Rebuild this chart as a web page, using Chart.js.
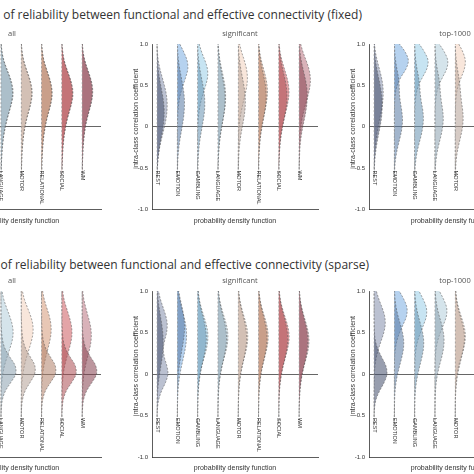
<!DOCTYPE html>
<html><head><meta charset="utf-8">
<script src="https://cdn.jsdelivr.net/npm/chart.js@4.4.0/dist/chart.umd.min.js"></script>
<style>
html,body{margin:0;padding:0;background:#fff;width:474px;height:474px;overflow:hidden;position:relative}
canvas{position:absolute}
.ttl{position:absolute;white-space:nowrap;font-family:'Open Sans',sans-serif;font-size:12px;color:#333;text-align:right}
</style></head><body>
<div class="ttl" style="right:112px;top:6px">Distribution of reliability between functional and effective connectivity (fixed)</div>
<div class="ttl" style="right:105px;top:256px">Distribution of reliability between functional and effective connectivity (sparse)</div>
<script>
const categories = ['REST','EMOTION','GAMBLING','LANGUAGE','MOTOR','RELATIONAL','SOCIAL','WM'];
const panelTitles = ['all','significant','top-1000'];
const yTicks = [-1,-0.5,0,0.5,1];
const yGrid = [-0.6,-0.5,-0.4,-0.3,-0.2,-0.1,0,0.1,0.2,0.3,0.4,0.5,0.6,0.7,0.8,0.9,1.0];
const colA = ['#8d98b3','#85b4e4','#a2d2ea','#b9d2de','#f3d5c3','#d9a184','#d0686c','#bf7e8a'];
const colB = ['#434f6c','#5679a2','#6692b0','#8aa1ae','#b5a196','#b08068','#ab4d52','#85404f'];

// ---- fixed: all ----
const fixedAllA = [null,null,null,
 [0,0.3,0.6,1.1,1.8,2.9,4.4,6.3,8.6,10.8,12,11.2,8.9,5.8,2.9,1.1,0.2],
 [0,0.3,0.5,0.9,1.5,2.4,3.8,5.6,7.8,9.8,10.8,10,7.8,5,2.5,0.9,0.2],
 [0,0.3,0.5,0.9,1.5,2.4,3.7,5.4,7.6,9.6,10.5,9.7,7.6,4.9,2.4,0.9,0.2],
 [0,0.3,0.5,0.9,1.5,2.4,3.8,5.6,7.9,10,11,10.1,7.8,4.9,2.4,0.9,0.2],
 [0,0.2,0.4,0.8,1.3,2.1,3.3,5,7.2,9.3,10.4,10,8,5.3,2.7,1,0.2]];
const fixedAllB = [null,null,null,
 [0,0.3,0.6,1,1.7,2.7,4.2,6.1,8.4,10.4,11.4,10.6,8.4,5.4,2.7,1,0.2],
 [0,0.2,0.5,0.8,1.4,2.3,3.6,5.3,7.5,9.4,10.3,9.5,7.4,4.7,2.3,0.8,0.1],
 [0,0.2,0.5,0.8,1.4,2.2,3.5,5.2,7.3,9.2,10.1,9.3,7.2,4.6,2.2,0.8,0.1],
 [0,0.2,0.5,0.8,1.4,2.3,3.6,5.3,7.5,9.5,10.4,9.6,7.4,4.6,2.2,0.8,0.1],
 [0,0.2,0.4,0.7,1.2,2,3.1,4.8,6.9,8.9,9.9,9.5,7.6,5,2.5,0.9,0.2]];
// ---- fixed: significant ----
const fixedSigA = [
 [0,0.2,0.8,1.8,3.4,5.3,7.3,8.9,9.8,9.9,9,7.2,5,2.8,1.2,0.3,0],
 [0,0,0,0,0,0,0.1,0.3,0.7,1.6,3.2,5.6,8.3,10.3,9.6,6.4,2.4],
 [0,0,0,0,0,0.1,0.3,0.7,1.6,3.1,5.3,7.9,9.8,9.6,7.2,4,1.5],
 [0,0.1,0.3,0.7,1.3,2.3,3.6,5.1,6.5,7.4,7.5,6.8,5.3,3.6,2,0.9,0.2],
 [0,0,0,0.1,0.2,0.4,0.9,1.8,3.2,5,7,8.5,9,8.1,6,3.4,1.3],
 [0,0.1,0.2,0.5,1,1.8,3,4.6,6.4,7.9,8.7,8.4,7,4.9,2.8,1.2,0.3],
 [0,0.1,0.3,0.6,1.2,2.1,3.5,5.3,7.3,9,10,9.6,7.9,5.5,3.1,1.3,0.3],
 [0,0,0.1,0.2,0.4,0.8,1.6,2.9,4.8,7,9.2,10.8,11,9.6,6.9,3.9,1.5]];
const fixedSigB = [
 [0,0.3,0.9,1.8,3,4.5,5.9,6.8,7,6.4,5.1,3.6,2.2,1.1,0.4,0.1,0],
 [0,0.2,0.5,1.1,2,3.3,4.7,6,6.8,7,6.5,5.3,3.8,2.3,1.1,0.4,0.1],
 [0,0.2,0.5,1,1.8,3,4.4,5.8,6.8,7,6.5,5.2,3.6,2.1,1,0.3,0.1],
 [0,0.1,0.4,0.8,1.5,2.5,3.8,5.2,6.4,7,6.8,5.9,4.4,2.8,1.5,0.6,0.1],
 [0,0.1,0.4,0.8,1.5,2.6,4,5.5,6.6,7,6.6,5.5,4,2.5,1.3,0.5,0.1],
 [0,0.1,0.3,0.7,1.3,2.2,3.5,5,6.4,7.3,7.5,6.8,5.3,3.5,1.9,0.8,0.2],
 [0,0.1,0.3,0.7,1.3,2.3,3.7,5.3,6.8,7.8,8,7.2,5.6,3.7,2,0.8,0.2],
 [0,0.1,0.3,0.6,1.2,2.2,3.6,5.3,6.8,7.8,8,7.3,5.7,3.8,2.1,0.9,0.2]];
// ---- fixed: top-1000 ----
const fixedTopA = [
 [0,0.1,0.3,0.8,1.5,2.6,4,5.6,7.2,8.5,9,8.6,7.2,5.2,3.1,1.4,0.4],
 [0,0,0,0,0,0,0,0,0.1,0.3,1,2.8,6.5,11.5,13.8,10.8,5],
 [0,0,0,0,0,0,0,0,0.2,0.6,1.6,3.8,7.8,12,13.2,9.8,4.5],
 [0,0,0,0,0,0,0,0.1,0.2,0.6,1.6,3.8,7.6,11.6,12.6,9.4,4.2],
 [0,0,0,0,0,0,0,0.1,0.2,0.5,1.3,3,6,9,9.9,7.6,3.5],
 [0,0,0,0,0,0,0,0.1,0.3,0.8,1.9,3.9,6.8,9.2,9.5,7,3.2],
 null,null];
const fixedTopB = [
 [0,0.3,0.8,1.6,2.8,4.3,5.9,7.2,7.9,8,7.3,6,4.3,2.7,1.4,0.6,0.2],
 [0.1,0.4,1.1,2.4,4.2,6.2,7.6,8,7.2,5.9,5,4.8,4,2.5,1.2,0.4,0.1],
 [0.1,0.4,1.2,2.5,4.4,6.5,8,8.6,8,6.6,5.5,4.9,3.8,2.3,1.1,0.4,0.1],
 [0.1,0.4,1.1,2.3,4.1,6.1,7.6,8.2,7.6,6.4,5.4,4.8,3.7,2.2,1,0.3,0.1],
 [0.1,0.4,1,2.1,3.8,5.7,7.2,7.8,7.3,6.2,5.3,4.6,3.5,2.1,1,0.3,0.1],
 [0.1,0.4,1,2,3.6,5.5,7,7.7,7.3,6.3,5.4,4.6,3.4,2,0.9,0.3,0.1],
 null,null];
// ---- sparse: all ----
const sparseAllA = [null,null,null,
 [0,0,0,0.1,0.3,0.8,1.8,3.5,5.9,8.6,11,12,11,8.5,5.5,2.8,1],
 [0,0,0,0.1,0.3,0.7,1.6,3.1,5.2,7.7,10.1,11.6,11.3,9.2,6.1,3.1,1.1],
 [0,0,0,0.1,0.2,0.5,1.2,2.4,4.1,6.2,8.2,9.4,9.2,7.6,5.1,2.7,1],
 [0,0,0,0.1,0.3,0.7,1.5,2.9,4.9,7.2,9.2,10,9.2,7.1,4.5,2.2,0.8],
 [0,0,0.1,0.2,0.4,0.9,1.8,3.3,5.3,7.4,8.8,9,7.9,5.8,3.6,1.7,0.6]];
const sparseAllB = [null,null,null,
 [0,0.1,0.5,1.6,4.6,9.8,14.5,14,9,4.2,1.7,0.7,0.2,0.1,0,0,0],
 [0,0.1,0.4,1.4,4,8.8,13.2,13.4,9.2,4.6,1.9,0.8,0.3,0.1,0,0,0],
 [0,0.1,0.4,1.3,4,9,13.6,13.5,9,4.4,1.8,0.7,0.2,0.1,0,0,0],
 [0,0.1,0.5,1.6,4.6,9.8,14,13.2,8.4,3.9,1.5,0.6,0.2,0.1,0,0,0],
 [0,0.1,0.5,1.6,4.6,9.8,14.2,13.4,8.6,4,1.6,0.6,0.2,0.1,0,0,0]];
// ---- sparse: significant ----
const sparseSigA = [
 [0,0.1,0.5,1.8,4.6,8.4,10.7,9.6,7.2,6.2,7.4,9.4,10,8.6,6,3.3,1.3],
 [0,0,0.1,0.3,0.7,1.4,2.6,4.2,6,7.7,8.8,9,8.1,6.3,4.1,2.2,0.8],
 [0,0,0.1,0.2,0.5,1.1,2.3,4.1,6.4,8.6,9.9,9.9,8.4,6,3.5,1.6,0.5],
 [0,0,0.1,0.2,0.5,1.1,2.3,4,6.2,8.3,9.6,9.6,8.2,5.8,3.4,1.5,0.5],
 [0,0,0.1,0.2,0.5,1.1,2.2,3.9,6,8,9.2,9.2,7.8,5.5,3.2,1.4,0.4],
 [0,0,0.1,0.2,0.5,1.1,2.2,3.9,6,8,9.3,9.3,7.9,5.6,3.2,1.4,0.4],
 [0,0,0.1,0.2,0.5,1.2,2.4,4.2,6.5,8.6,10,9.9,8.3,5.8,3.3,1.4,0.4],
 [0,0,0.1,0.3,0.7,1.5,2.9,4.9,7.2,9,9.7,9,7.1,4.7,2.5,1,0.3]];
const sparseSigB = [
 [0,0,0.1,0.3,0.7,1.4,2.5,3.8,5,5.8,6,5.6,4.6,3.3,2,1,0.3],
 [0,0,0,0.1,0.2,0.5,1,1.9,3.2,4.6,6,6.9,7,6.2,4.7,2.9,1.3],
 [0,0,0.1,0.3,0.7,1.4,2.6,4.2,6,7.6,8.5,8.3,7,5,3,1.4,0.5],
 [0,0,0.1,0.3,0.7,1.4,2.6,4.1,5.9,7.5,8.4,8.2,6.9,4.9,2.9,1.4,0.4],
 [0,0,0.1,0.3,0.7,1.4,2.5,4,5.8,7.3,8.2,8,6.7,4.8,2.8,1.3,0.4],
 [0,0,0.1,0.3,0.7,1.4,2.5,4,5.8,7.3,8.2,8,6.7,4.8,2.8,1.3,0.4],
 [0,0,0.1,0.3,0.7,1.5,2.7,4.3,6.2,7.8,8.7,8.4,7,4.9,2.8,1.3,0.4],
 [0,0,0.1,0.4,0.9,1.8,3.1,4.8,6.6,8,8.5,7.9,6.3,4.3,2.4,1,0.3]];
// ---- sparse: top-1000 ----
const sparseTopA = [
 [0,0,0,0,0,0.1,0.3,0.9,2.2,4.3,7,9.6,11,10.4,7.9,4.8,2.2],
 [0,0,0,0,0,0,0,0.1,0.3,1,2.5,5.2,8.8,12,12.4,9.3,4.8],
 [0,0,0,0,0,0,0.1,0.2,0.5,1.3,3,5.8,9,11.6,11.5,8.4,4.2],
 [0,0,0,0,0,0,0,0.1,0.4,1.1,2.7,5.3,8.6,11.3,11.5,8.5,4.3],
 [0,0,0,0.1,0.3,0.8,1.7,3.3,5.6,8,9.7,9.8,8.2,5.7,3.2,1.4,0.5],
 [0,0,0,0.1,0.3,0.8,1.7,3.3,5.5,7.8,9.4,9.5,8,5.6,3.2,1.4,0.5],
 null,null];
const sparseTopB = [
 [0,0.1,0.6,2.1,5.6,10,12.7,11.6,7.6,3.7,1.3,0.4,0.1,0,0,0,0],
 [0,0,0.1,0.3,0.8,1.7,3.2,5.2,7.3,8.9,9.2,8,5.9,3.6,1.8,0.7,0.2],
 [0,0,0.1,0.3,0.8,1.7,3.2,5.1,7.1,8.6,8.9,7.8,5.8,3.6,1.8,0.7,0.2],
 [0,0,0.1,0.2,0.6,1.3,2.6,4.4,6.6,8.3,9,8.3,6.5,4.2,2.2,0.9,0.3],
 [0,0,0.1,0.2,0.6,1.3,2.5,4.2,6.2,8,9,8.8,7.2,4.9,2.7,1.2,0.4],
 [0,0,0.1,0.2,0.6,1.3,2.5,4.1,6.1,7.8,8.7,8.5,7,4.8,2.7,1.2,0.4],
 null,null];

const W = 0.05; // x-units per density unit
function rgba(hex,a){const n=parseInt(hex.slice(1),16);return `rgba(${n>>16},${(n>>8)&255},${n&255},${a})`;}

const panelDecor = {
  id:'panelDecor',
  afterDraw(chart){
    const o = chart.options.plugins.panelDecor;
    const {ctx, chartArea:a, scales:{x,y}} = chart;
    ctx.save();
    ctx.fillStyle='#333';
    ctx.font="5.5px 'Liberation Sans', Arial, sans-serif";
    ctx.textAlign='left'; ctx.textBaseline='middle';
    categories.forEach((c,k)=>{
      const px=x.getPixelForValue(k+1), py=y.getPixelForValue(-0.53);
      ctx.save(); ctx.translate(px,py); ctx.rotate(Math.PI/2); ctx.fillText(c,0,0); ctx.restore();
    });
    ctx.fillStyle='#555';
    ctx.font="7.5px 'Open Sans', sans-serif";
    ctx.textAlign='center'; ctx.textBaseline='middle';
    ctx.fillText(o.title,(a.left+a.right)/2+o.dx,a.top-10.5);
    ctx.fillStyle='#333';
    ctx.font="7px 'Liberation Sans', Arial, sans-serif";
    ctx.fillText('probability density function',(a.left+a.right)/2,a.bottom+11.5);
    ctx.save(); ctx.translate(a.left-16,(a.top+a.bottom)/2-8); ctx.rotate(-Math.PI/2);
    ctx.fillText('intra-class correlation coefficient',0,0); ctx.restore();
    ctx.restore();
  }
};

function makePanel(left, top, height, axisH, title, dx, dataA, dataB){
  const cv=document.createElement('canvas');
  cv.width=210; cv.height=height; cv.style.left=left+'px'; cv.style.top=top+'px';
  document.body.appendChild(cv);
  const datasets=[];
  categories.forEach((c,k)=>{
    if(!dataA[k]) return;
    const idx=k+1;
    datasets.push({data:[{x:idx,y:-0.5},{x:idx,y:1}],borderColor:'#909090',borderWidth:0.7,borderDash:[2,2],pointRadius:0,fill:false});
    [[dataB[k],colB[k],0.55],[dataA[k],colA[k],0.6]].forEach(([d,col,al])=>{
      datasets.push({
        data:yGrid.map((yy,i)=>({x:idx+d[i]*W,y:yy})),
        borderColor:'rgba(85,85,85,0.75)',borderWidth:0.7,borderDash:[2,1.5],
        backgroundColor:rgba(col,al),fill:{value:idx},pointRadius:0,tension:0.35
      });
    });
  });
  new Chart(cv,{
    type:'line',
    data:{datasets},
    options:{
      indexAxis:'y',responsive:false,animation:false,devicePixelRatio:1,
      layout:{padding:{top:24,right:4,left:0,bottom:0}},
      plugins:{legend:{display:false},tooltip:{enabled:false},panelDecor:{title,dx}},
      scales:{
        x:{type:'linear',min:0.75,max:8.93,position:'bottom',
           ticks:{display:false},grid:{display:false},
           border:{display:true,color:'#333',width:0.8},
           afterFit:s=>{s.height=axisH;}},
        y:{type:'linear',min:-1,max:1,position:'left',
           afterBuildTicks:s=>{s.ticks=yTicks.map(v=>({value:v}));},
           ticks:{color:'#333',font:{size:6,family:"'Liberation Sans', Arial, sans-serif"},padding:4},
           grid:{drawTicks:false,lineWidth:0.9,color:c=>c.tick&&c.tick.value===0?'#555':'rgba(0,0,0,0)'},
           border:{display:true,color:'#333',width:0.8},
           afterFit:s=>{s.width=40;}}
      }
    },
    plugins:[panelDecor]
  });
}
makePanel(-105,20,210,20.5,panelTitles[0],-6,fixedAllA,fixedAllB);
makePanel(112,20,210,20.5,panelTitles[1],5,fixedSigA,fixedSigB);
makePanel(329,20,210,20.5,panelTitles[2],3,fixedTopA,fixedTopB);
makePanel(-105,267,207,17,panelTitles[0],-6,sparseAllA,sparseAllB);
makePanel(112,267,207,17,panelTitles[1],5,sparseSigA,sparseSigB);
makePanel(329,267,207,17,panelTitles[2],3,sparseTopA,sparseTopB);
</script>
</body></html>
